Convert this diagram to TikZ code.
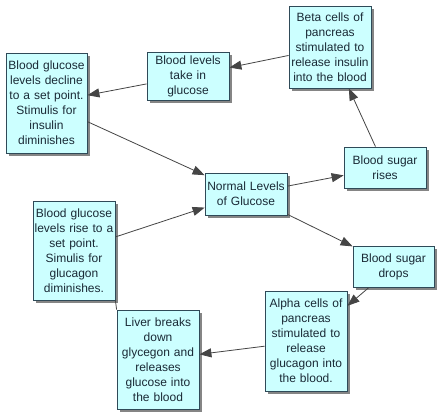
\documentclass[tikz,border=0pt]{standalone}
\usepackage{fontspec}
\setmainfont{Liberation Sans}
\usetikzlibrary{arrows.meta,shadows}
\definecolor{boxfill}{HTML}{CCFFFF}
\definecolor{boxline}{HTML}{2F4A58}
\definecolor{boxtext}{HTML}{1A2A36}
\definecolor{arrowcol}{HTML}{454545}
\definecolor{shadowcol}{HTML}{858585}
\tikzset{
  box/.style={draw=boxline, line width=0.8pt, fill=boxfill, text=boxtext,
    font=\fontsize{12}{15}\selectfont, align=center, inner sep=1pt,
    text width=#1-2pt, minimum width=#1,
    drop shadow={shadow xshift=3pt, shadow yshift=-3pt, fill=shadowcol, opacity=1}},
  box/.default=82pt,
  conn/.style={draw=arrowcol, line width=0.8pt, -{Triangle[length=12pt,width=9pt]}},
  plain/.style={draw=arrowcol, line width=0.8pt}
}
\begin{document}
\begin{tikzpicture}[x=1pt,y=-1pt]
\useasboundingbox (0,0) rectangle (443,418);
\fill[white] (0,0) rectangle (443,418);
\node[box, minimum height=82pt] (beta) at (330,47) {Beta cells of\\pancreas\\stimulated to\\release insulin\\into the blood};
\node[box, minimum height=48pt] (levels) at (188,76) {Blood levels\\take in\\glucose};
\node[box=81pt, minimum height=100pt] (decline) at (46.5,103) {Blood glucose\\levels decline\\to a set point.\\Stimulis for\\insulin\\diminishes};
\node[box, minimum height=42pt] (normal) at (246,194) {Normal Levels\\of Glucose};
\node[box, minimum height=41pt] (rises) at (385,167.5) {Blood sugar\\rises};
\node[box, minimum height=99pt] (rise) at (74,250.5) {Blood glucose\\levels rise to a\\set point.\\Simulis for\\glucagon\\diminishes.};
\node[box=81pt, minimum height=41pt] (drops) at (393.5,266.5) {Blood sugar\\drops};
\node[box, minimum height=100pt] (alpha) at (306,341) {Alpha cells of\\pancreas\\stimulated to\\release\\glucagon into\\the blood.};
\node[box, minimum height=99pt] (liver) at (158,359.5) {Liver breaks\\down\\glycegon and\\releases\\glucose into\\the blood};
\draw[conn] (beta) -- (levels);
\draw[conn] (levels) -- (decline);
\draw[conn] (decline) -- (normal);
\draw[conn] (normal) -- (rises);
\draw[conn] (rises) -- (beta);
\draw[conn] (normal) -- (drops);
\draw[conn] (drops) -- (alpha);
\draw[conn] (alpha) -- (liver);
\draw[conn] (rise) -- (normal);
\draw[plain] (rise.south east) -- (liver.north west);
\end{tikzpicture}
\end{document}
